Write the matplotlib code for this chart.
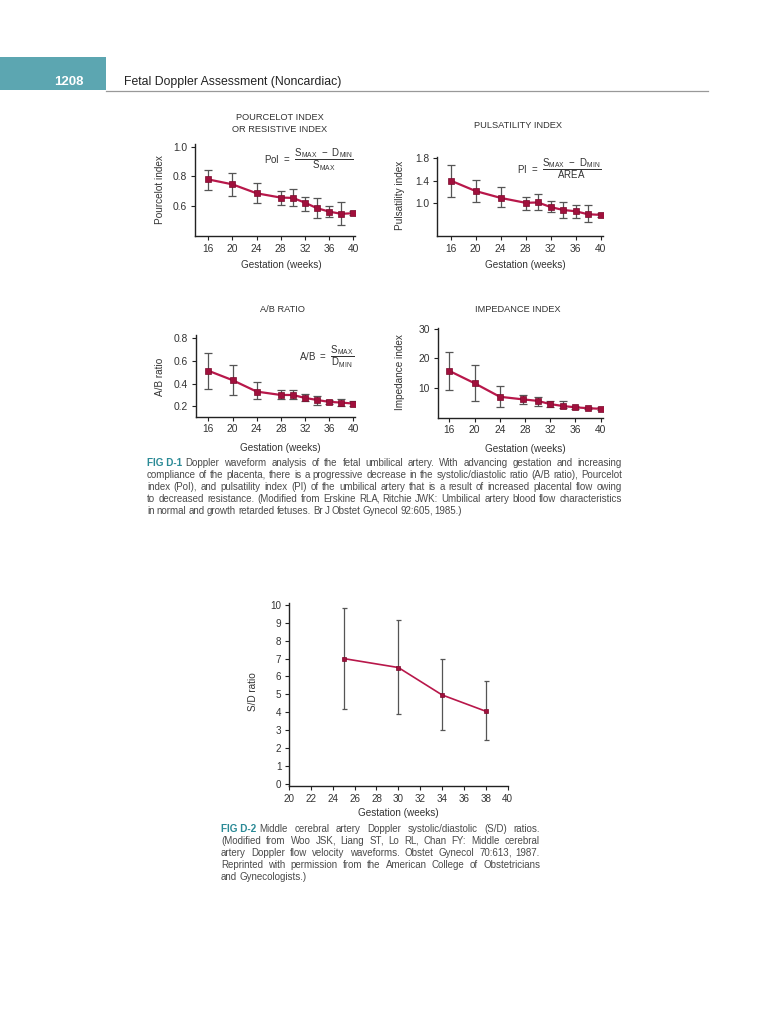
import matplotlib.pyplot as plt
from matplotlib.patches import Rectangle
from matplotlib.lines import Line2D

plt.rcParams['font.family'] = ['Liberation Sans', 'DejaVu Sans']
plt.rcParams['mathtext.fontset'] = 'custom'
plt.rcParams['mathtext.rm'] = 'Liberation Sans'

W, H = 768, 1024

# FIG D-1 data (umbilical artery)
weeks = [16, 20, 24, 28, 30, 32, 34, 36, 38, 40]
poi_mean = [0.78, 0.747, 0.687, 0.658, 0.656, 0.624, 0.587, 0.564, 0.549, 0.553]
poi_lo = [0.71, 0.667, 0.62, 0.607, 0.60, 0.569, 0.522, 0.529, 0.476, 0.54]
poi_hi = [0.844, 0.824, 0.753, 0.702, 0.713, 0.66, 0.653, 0.602, 0.627, 0.567]

pi_mean = [1.40, 1.217, 1.097, 1.011, 1.017, 0.937, 0.886, 0.863, 0.811, 0.80]
pi_lo = [1.12, 1.026, 0.937, 0.89, 0.886, 0.851, 0.737, 0.737, 0.669, 0.771]
pi_hi = [1.67, 1.417, 1.286, 1.114, 1.17, 1.034, 1.029, 0.977, 0.966, 0.829]

ab_mean = [0.514, 0.431, 0.33, 0.30, 0.30, 0.274, 0.256, 0.239, 0.233, 0.224]
ab_lo = [0.351, 0.301, 0.262, 0.262, 0.262, 0.244, 0.213, 0.224, 0.20, 0.206]
ab_hi = [0.674, 0.564, 0.413, 0.345, 0.345, 0.31, 0.295, 0.253, 0.262, 0.244]

imp_weeks = [16, 20, 24, 27.7, 30, 32, 34, 36, 38, 40]
imp_mean = [15.7, 11.5, 6.9, 6.0, 5.5, 4.4, 3.75, 3.3, 3.0, 2.8]
imp_lo = [9.2, 5.5, 3.3, 4.3, 3.8, 3.3, 3.0, 2.7, 2.6, 2.4]
imp_hi = [22.0, 17.7, 10.7, 7.5, 6.9, 5.6, 5.5, 3.75, 3.5, 3.5]

# FIG D-2 data (middle cerebral artery)
sd_weeks = [25, 30, 34, 38]
sd_mean = [7.0, 6.5, 4.97, 4.06]
sd_lo = [4.17, 3.9, 3.0, 2.44]
sd_hi = [9.81, 9.16, 7.0, 5.74]

LINE = '#b8174a'
MARK = '#a0103c'
BAR = '#555555'
TXT = '#333333'
TEAL = '#5ca6b1'

fig = plt.figure(figsize=(W / 100, H / 100), dpi=100)


def px(x, y):
    return x / W, 1 - y / H


def add_axes(l, t, r, b):
    """axes from pixel box"""
    return fig.add_axes([l / W, 1 - b / H, (r - l) / W, (b - t) / H])


def style(ax, xlim, ylim, xticks, yticks, fs=7.4):
    ax.set_xlim(*xlim)
    ax.set_ylim(*ylim)
    ax.set_xticks(xticks)
    ax.set_yticks(yticks)
    for s in ('top', 'right'):
        ax.spines[s].set_visible(False)
    for s in ('left', 'bottom'):
        ax.spines[s].set_linewidth(1.0)
        ax.spines[s].set_color('#222222')
    ax.tick_params(length=3, width=0.8, labelsize=fs, colors='#222222',
                   labelcolor=TXT, pad=2.5)
    ax.patch.set_alpha(0)


def draw(ax, x, m, lo, hi, ms=4.8, lw=1.6, cap=3.0):
    err = [[a - b for a, b in zip(m, lo)], [b - a for a, b in zip(m, hi)]]
    ax.errorbar(x, m, yerr=err, fmt='none', ecolor=BAR, elinewidth=0.9,
                capsize=cap, capthick=0.9, zorder=2)
    ax.plot(x, m, color=LINE, lw=lw, marker='s', ms=ms, mfc=MARK,
            mec='#7a0a2c', mew=0.5, zorder=3)


wk = [16, 20, 24, 28, 32, 36, 40]

# Pourcelot
ax1 = add_axes(195, 143.7, 355, 236)
style(ax1, (13.8, 40.3), (0.4, 1.02), wk, [0.6, 0.8, 1.0])
ax1.set_yticklabels(['0.6', '0.8', '1.0'])
draw(ax1, weeks, poi_mean, poi_lo, poi_hi)

# Pulsatility
ax2 = add_axes(436.7, 156.6, 603, 236)
style(ax2, (13.76, 40.4), (0.43, 1.82), wk, [1.0, 1.4, 1.8])
ax2.set_yticklabels(['1.0', '1.4', '1.8'])
draw(ax2, weeks, pi_mean, pi_lo, pi_hi)

# A/B ratio
ax3 = add_axes(195.7, 335, 355, 416.7)
style(ax3, (13.9, 40.3), (0.108, 0.83), wk, [0.2, 0.4, 0.6, 0.8])
draw(ax3, weeks, ab_mean, ab_lo, ab_hi)

# Impedance
ax4 = add_axes(437.7, 327.7, 602.6, 417.7)
style(ax4, (14.16, 40.3), (-0.23, 30.4), wk, [10, 20, 30])
draw(ax4, imp_weeks, imp_mean, imp_lo, imp_hi)

# S/D ratio
ax5 = add_axes(289, 603, 507.7, 786)
style(ax5, (20, 40), (-0.11, 10.1), list(range(20, 41, 2)), list(range(0, 11)), fs=7.1)
draw(ax5, sd_weeks, sd_mean, sd_lo, sd_hi, ms=3.4, lw=1.2, cap=1.8)

# panel titles, labels
t_kw = dict(ha='center', va='center', fontsize=6.7, color=TXT)
fig.text(*px(280, 117), 'POURCELOT INDEX', **t_kw)
fig.text(*px(280, 129), 'OR RESISTIVE INDEX', **t_kw)
fig.text(*px(518, 125), 'PULSATILITY INDEX', **t_kw)
fig.text(*px(282, 310), 'A/B RATIO', **t_kw)
fig.text(*px(518, 310), 'IMPEDANCE INDEX', **t_kw)

l_kw = dict(ha='center', va='center', fontsize=7.2, color=TXT)
fig.text(*px(281, 265), 'Gestation (weeks)', **l_kw)
fig.text(*px(525, 265), 'Gestation (weeks)', **l_kw)
fig.text(*px(280, 448), 'Gestation (weeks)', **l_kw)
fig.text(*px(525, 449), 'Gestation (weeks)', **l_kw)
fig.text(*px(398, 813), 'Gestation (weeks)', **l_kw)
fig.text(*px(160, 190), 'Pourcelot index', rotation=90, **l_kw)
fig.text(*px(400, 195), 'Pulsatility index', rotation=90, **l_kw)
fig.text(*px(160, 377), 'A/B ratio', rotation=90, **l_kw)
fig.text(*px(400, 372), 'Impedance index', rotation=90, **l_kw)
fig.text(*px(253, 692), 'S/D ratio', rotation=90, **l_kw)

# formulas
f_kw = dict(ha='right', va='center', fontsize=7.0, color=TXT)
fig.text(*px(354, 160), r'$\mathrm{PoI\ =\ \dfrac{S_{MAX}\ -\ D_{MIN}}{S_{MAX}}}$', **f_kw)
fig.text(*px(602, 169), r'$\mathrm{PI\ =\ \dfrac{S_{MAX}\ -\ D_{MIN}}{AREA}}$', **f_kw)
fig.text(*px(354, 357), r'$\mathrm{A/B\ =\ \dfrac{S_{MAX}}{D_{MIN}}}$', **f_kw)

# page header
fig.patches.append(Rectangle(px(0, 90), 106 / W, 33.3 / H, transform=fig.transFigure,
                             facecolor=TEAL, edgecolor='none'))
fig.lines.append(Line2D([106 / W, 708 / W], [1 - 90.5 / H] * 2, transform=fig.transFigure,
                        color='#999999', lw=0.9))
fig.text(*px(69, 82), '1208', ha='center', va='center', fontsize=9.5,
         color='white', fontweight='bold')
fig.text(*px(124, 82), 'Fetal Doppler Assessment (Noncardiac)', ha='left',
         va='center', fontsize=8.8, color='#222222')

# captions, justified word by word
cap1 = [
    'Doppler waveform analysis of the fetal umbilical artery. With advancing gestation and increasing',
    'compliance of the placenta, there is a progressive decrease in the systolic/diastolic ratio (A/B ratio), Pourcelot',
    'index (PoI), and pulsatility index (PI) of the umbilical artery that is a result of increased placental flow owing',
    'to decreased resistance. (Modified from Erskine RLA, Ritchie JWK: Umbilical artery blood flow characteristics',
    'in normal and growth retarded fetuses. Br J Obstet Gynecol 92:605, 1985.)',
]
cap2 = [
    'Middle cerebral artery Doppler systolic/diastolic (S/D) ratios.',
    '(Modified from Woo JSK, Liang ST, Lo RL, Chan FY: Middle cerebral',
    'artery Doppler flow velocity waveforms. Obstet Gynecol 70:613, 1987.',
    'Reprinted with permission from the American College of Obstetricians',
    'and Gynecologists.)',
]

renderer = fig.canvas.get_renderer()
c_kw = dict(fontsize=7.05, color='#4a4a4a', va='baseline', ha='left')


def width(t):
    return t.get_window_extent(renderer).width


def caption(label, lines, x0, x1, y0, dy):
    for i, line in enumerate(lines):
        y = y0 + i * dy + 3.5
        words = line.split(' ')
        start = x0
        if i == 0:
            lab = fig.text(*px(x0, y), label, fontweight='bold', fontsize=7.2,
                           color='#2b8a96', va='baseline', ha='left')
            start = x0 + width(lab) + 3.5
        # a word whose only descender is a trailing comma is drawn as two
        # texts, otherwise agg shifts it down a couple of pixels
        parts = []
        for w in words:
            if w.endswith(',') and not any(c in w for c in 'gjpqy()'):
                parts.append([fig.text(0, 0, w[:-1], **c_kw), fig.text(0, 0, ',', **c_kw)])
            else:
                parts.append([fig.text(0, 0, w, **c_kw)])
        ws = [sum(width(t) for t in p) - 1.3 * (len(p) - 1) for p in parts]
        space = 2.2
        if i < len(lines) - 1 and len(words) > 1:
            space = (x1 - start - sum(ws)) / (len(words) - 1)
        x = start
        for p, w in zip(parts, ws):
            xx = x
            for t in p:
                t.set_position(px(xx, y))
                xx += width(t) - 1.3
            x += w + space


caption('FIG D-1', cap1, 147, 622, 463, 12)
caption('FIG D-2', cap2, 221, 540, 829, 12)

fig.savefig('out.png', dpi=100, facecolor='white')
